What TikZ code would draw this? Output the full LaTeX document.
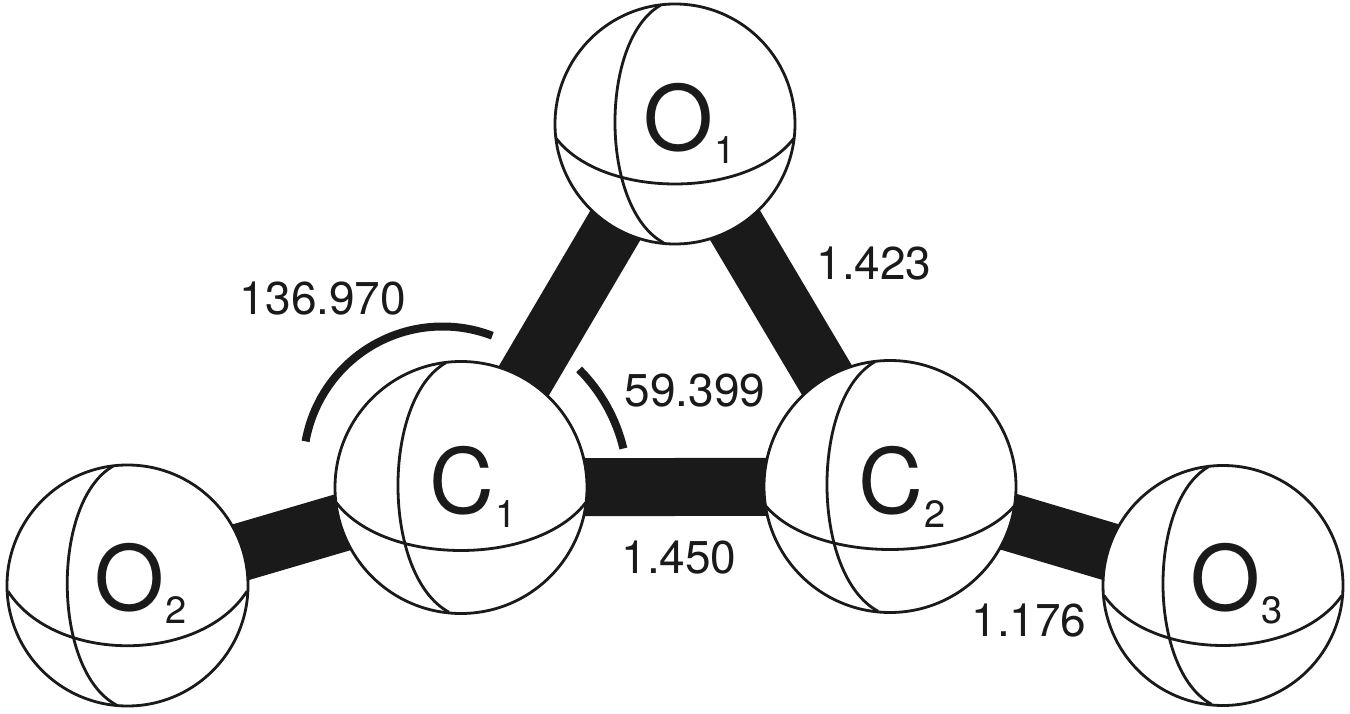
\documentclass[tikz,border=0pt]{standalone}
\usepackage{fontspec}
\setmainfont{TeX Gyre Heros}
\usetikzlibrary{backgrounds,calc}
\definecolor{ink}{HTML}{1A1A1A}
\tikzset{
  x=1pt,y=1pt,
  atom/.style={circle,draw=ink,fill=white,line width=2.8pt,inner sep=0pt,minimum size=#1,outer sep=0pt},
  wire/.style={draw=ink,line width=2.8pt},
  bond/.style={draw=ink,line width=58pt},
  anglearc/.style={draw=ink,line width=8pt},
  atomtext/.style={text=ink,inner sep=0pt,font=\fontsize{90}{90}\selectfont},
  value/.style={text=ink,inner sep=0pt,font=\fontsize{46}{46}\selectfont},
}
\newcommand{\atomlabel}[2]{#1\raisebox{-13pt}{\fontsize{38}{38}\selectfont\kern1pt #2}}
% meridian and equator of a sphere: #1 node name, #2 radius in pt, #3 height of the equator ends
\newcommand{\globe}[3]{%
  \draw[wire,shift={(#1.center)},x=#2pt,y=#2pt] (-.12,.99) .. controls (-.631,.7) and (-.631,-.7) .. (-.095,-.99);
  \draw[wire,shift={(#1.center)},x=#2pt,y=#2pt] (-.99,#3) .. controls (-.6,{(-.5-.25*(#3))/.75}) and (.6,{(-.5-.25*(#3))/.75}) .. (.99,#3);
}
\begin{document}
\begin{tikzpicture}
\path[use as bounding box] (0,0) rectangle (1350,713);
% atoms
\node[atom=252pt] (C1) at (461,225.5) {};
\node[atom=252pt] (C2) at (890,226.5) {};
\node[atom=240pt] (O1) at (675,589) {};
\node[atom=241pt] (O2) at (127.5,127.5) {};
\node[atom=240pt] (O3) at (1223,127.5) {};
% bonds behind the atoms
\begin{scope}[on background layer]
\fill[white] (0,0) rectangle (1350,713);
\draw[bond] (C1.center) -- (C2.center);
\draw[bond] (C1.center) -- (O1.center);
\draw[bond] (C2.center) -- (O1.center);
\draw[bond] (C1.center) -- (O2.center);
\draw[bond] (C2.center) -- (O3.center);
\end{scope}
\globe{C1}{126}{-.12}
\globe{C2}{126}{-.15}
\globe{O1}{120}{-.12}
\globe{O2}{120.5}{-.05}
\globe{O3}{120}{-.085}
% atom labels
\node[atomtext,anchor=base west] (tC1) at (429,199) {\atomlabel{C}{1}};
\node[atomtext,anchor=base west] (tC2) at (858,199) {\atomlabel{C}{2}};
\node[atomtext,anchor=base west] (tO1) at (643,562) {\atomlabel{O}{1}};
\node[atomtext,anchor=base west] (tO2) at (94,103) {\atomlabel{O}{2}};
\node[atomtext,anchor=base west] (tO3) at (1190,103) {\atomlabel{O}{3}};
% angle arcs
\draw[anglearc] ($(C1.center)+(-18.5,22)+(170:139pt)$) arc[start angle=170,end angle=69,radius=139pt];
\draw[anglearc] ($(C1.center)+(45:167pt)$) arc[start angle=45,end angle=13.5,radius=167pt];
% values
\node[value] (a1) at (323,414) {136.970};
\node[value] (a2) at (695,322) {59.399};
\node[value] (b1) at (874,449) {1.423};
\node[value] (b2) at (679,155) {1.450};
\node[value] (b3) at (1029,92) {1.176};
\end{tikzpicture}
\end{document}
